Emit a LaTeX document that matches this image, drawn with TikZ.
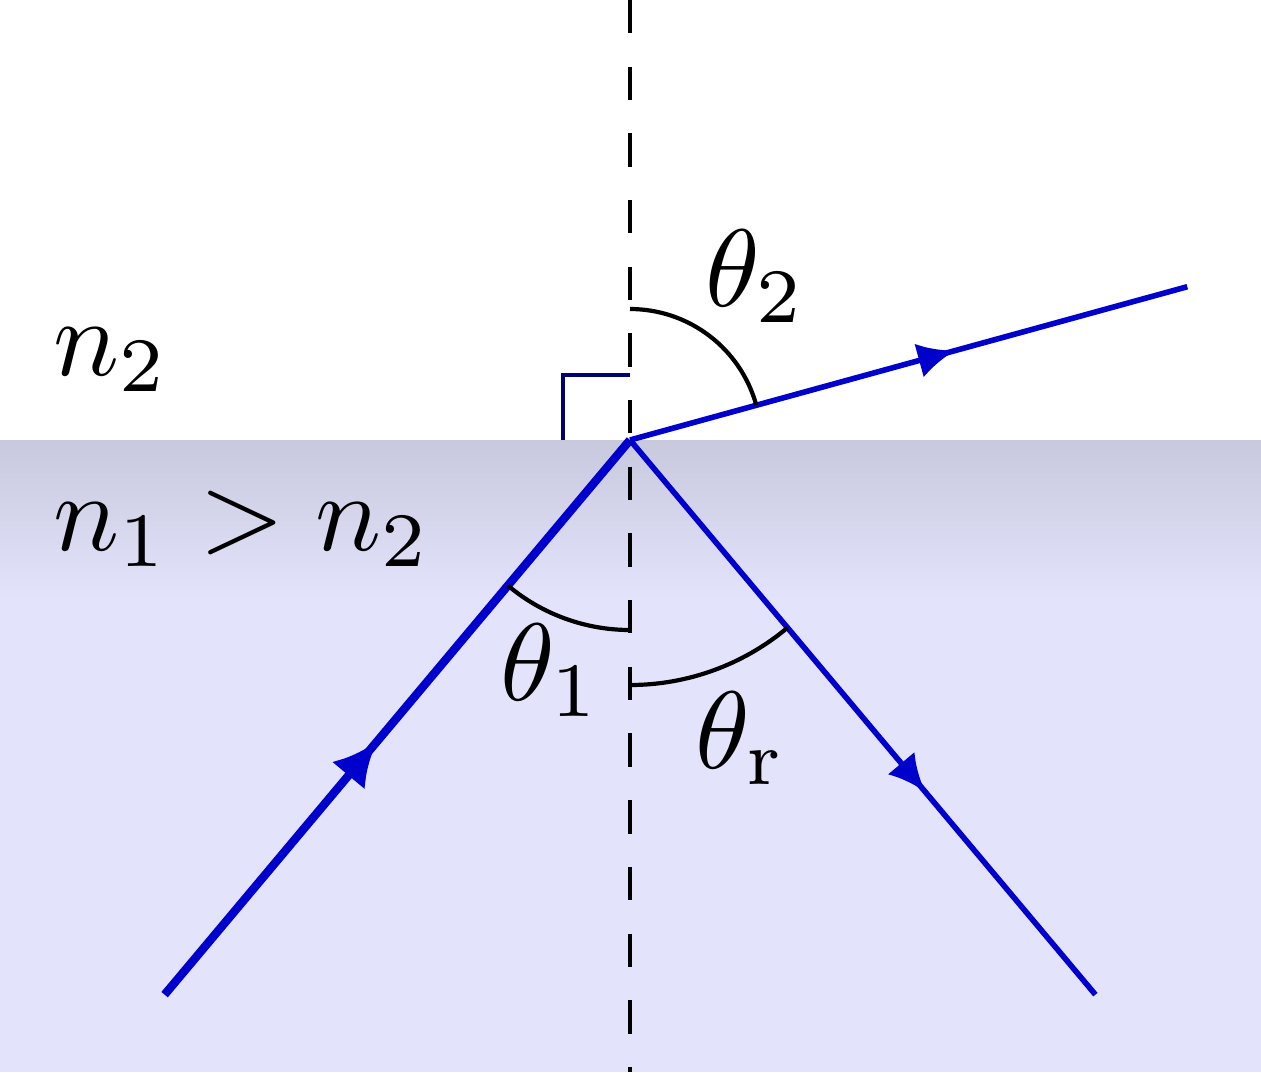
\documentclass[tikz,border=0pt]{standalone}
\usepackage{fix-cm}
\usetikzlibrary{arrows.meta,decorations.markings,calc}
\definecolor{raycol}{RGB}{0,0,204}
\definecolor{navycol}{RGB}{0,0,110}
\definecolor{medtop}{RGB}{200,200,222}
\definecolor{medbot}{RGB}{227,227,252}
\tikzset{
  lab/.style={inner sep=0pt, font=\fontsize{10}{12}\selectfont, scale=5.5, transform shape},
  thickray/.style={draw=raycol, line width=4.2pt},
  thinray/.style={draw=raycol, line width=2.8pt},
  anglearc/.style={draw=black, line width=2.1pt},
  normalline/.style={draw=black, line width=2.3pt, dash pattern=on 16.67pt off 16.67pt},
  rightmark/.style={draw=navycol, line width=2.2pt},
  midarrow/.style 2 args={postaction={decorate, decoration={markings,
      mark=at position #1 with {\arrow{#2}}}}}
}
\begin{document}
\begin{tikzpicture}[x=0.5pt, y=-0.5pt]
  \useasboundingbox (0,0) rectangle (1261,1072);
  % media
  \fill[medbot] (0,440) rectangle (1261,1072);
  \shade[top color=medtop, bottom color=medbot] (0,440) rectangle (1261,600);
  % points
  \coordinate (O) at (630,440);
  \coordinate (A) at ($(O)+(130:724)$);
  \coordinate (R) at ($(O)+(50:724)$);
  \coordinate (T) at ($(O)+(-15.38:578)$);
  \coordinate (Ntop) at (630,0);
  \coordinate (Nbot) at (630,1072);
  \coordinate (M1) at (563,440);
  \coordinate (M2) at (563,375);
  \coordinate (M3) at (630,375);
  % right-angle marker
  \draw[rightmark] (M1) -- (M2) -- (M3);
  % normal
  \draw[normalline] (Ntop) -- (Nbot);
  % rays
  \draw[thickray, midarrow={0.456}{Latex[length=22pt,width=21.5pt]}] (A) -- (O);
  \draw[thinray, midarrow={0.634}{Latex[length=18.5pt,width=17.5pt]}] (O) -- (R);
  \draw[thinray, midarrow={0.583}{Latex[length=18.5pt,width=17.5pt]}] (O) -- (T);
  % angle arcs
  \draw[anglearc] ([shift={(90:190)}]O) arc[start angle=90, end angle=130, radius=190];
  \draw[anglearc] ([shift={(90:245)}]O) arc[start angle=90, end angle=50, radius=245];
  \draw[anglearc] ([shift={(-90:131)}]O) arc[start angle=-90, end angle=-15.38, radius=131];
  % labels
  \node[lab, anchor=base west] (ntwo) at (51,375) {$n_2$};
  \node[lab, anchor=base west] (nrel) at (51,550) {$n_1 > n_2$};
  \node[lab, anchor=base west] (tone) at (498,700) {$\theta_1$};
  \node[lab, anchor=base west] (tr) at (693,768) {$\theta_\mathrm{r}$};
  \node[lab, anchor=base west] (ttwo) at (703,306) {$\theta_2$};
\end{tikzpicture}
\end{document}
